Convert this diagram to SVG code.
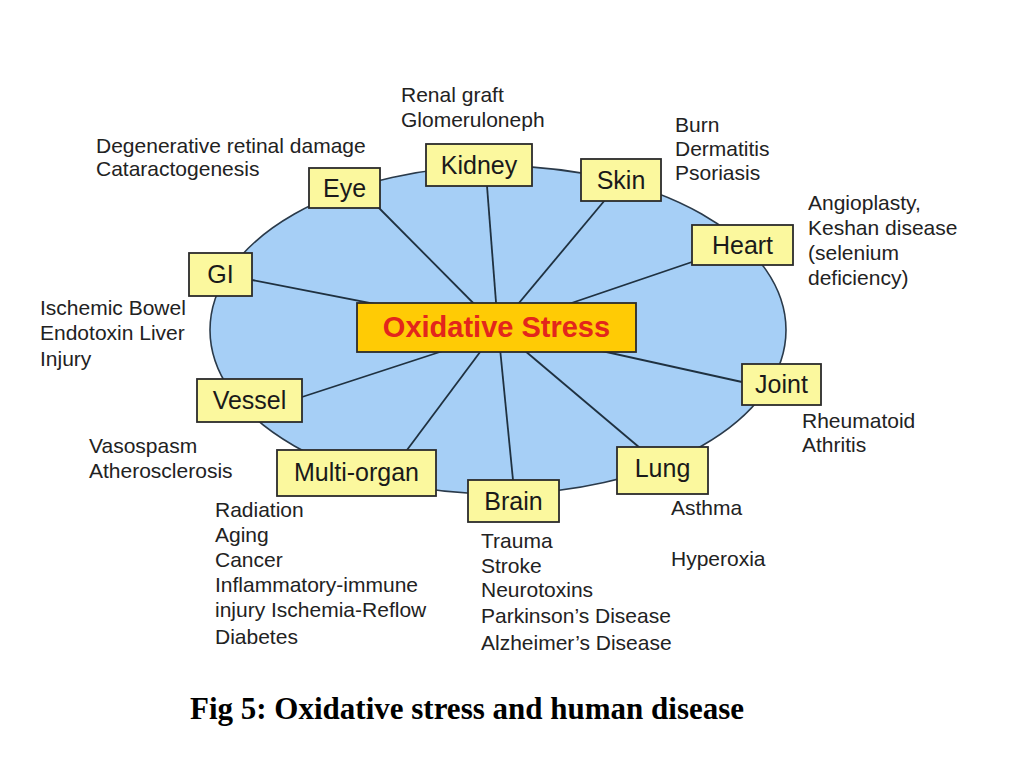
<svg xmlns="http://www.w3.org/2000/svg" width="1024" height="768" viewBox="0 0 1024 768">
<style>
.bg{fill:#ffffff}
.ell{fill:#a6cff6;stroke:#2a3a4a;stroke-width:1.6}
.ln{stroke:#1f3140;stroke-width:1.8;fill:none}
.box{fill:#fbf89e;stroke:#2b2b2b;stroke-width:1.8}
.lbl{font-family:"Liberation Sans",Arial,sans-serif;font-size:25px;fill:#1a1a1a;text-anchor:middle}
.txt{font-family:"Liberation Sans",Arial,sans-serif;font-size:21px;fill:#222222}
.core{fill:#ffcb05;stroke:#2b2b2b;stroke-width:1.8}
.coret{font-family:"Liberation Sans",Arial,sans-serif;font-size:29px;font-weight:bold;fill:#e3261c;text-anchor:middle}
.cap{font-family:"Liberation Serif","Times New Roman",serif;font-size:31px;font-weight:bold;fill:#000000}
</style>
<rect class="bg" x="0" y="0" width="1024" height="768"/>
<ellipse class="ell" cx="498" cy="330" rx="288" ry="164"/>
<g id="connectors">
<line class="ln" x1="378" y1="207" x2="498" y2="328"/>
<line class="ln" x1="487" y1="186" x2="498" y2="328"/>
<line class="ln" x1="605" y1="200" x2="498" y2="328"/>
<line class="ln" x1="692" y1="262" x2="498" y2="328"/>
<line class="ln" x1="252" y1="280" x2="498" y2="328"/>
<line class="ln" x1="742" y1="382" x2="498" y2="328"/>
<line class="ln" x1="302" y1="397" x2="498" y2="333"/>
<line class="ln" x1="407" y1="450" x2="498" y2="328"/>
<line class="ln" x1="513" y1="480" x2="498" y2="328"/>
<line class="ln" x1="640" y1="448" x2="498" y2="328"/>
</g>
<g id="center">
<rect class="core" x="357" y="303" width="279" height="49"/>
<text class="coret" x="496.5" y="337">Oxidative Stress</text>
</g>
<g id="eye">
<rect class="box" x="309" y="168" width="71" height="40"/>
<text class="lbl" x="344.5" y="197">Eye</text>
<text class="txt" x="96" y="153">Degenerative retinal damage</text>
<text class="txt" x="96" y="176">Cataractogenesis</text>
</g>
<g id="kidney">
<rect class="box" x="426" y="144" width="106" height="42"/>
<text class="lbl" x="479" y="174">Kidney</text>
<text class="txt" x="401" y="102">Renal graft</text>
<text class="txt" x="401" y="127">Glomeruloneph</text>
</g>
<g id="skin">
<rect class="box" x="581" y="159" width="80" height="42"/>
<text class="lbl" x="621" y="189">Skin</text>
<text class="txt" x="675" y="132">Burn</text>
<text class="txt" x="675" y="156">Dermatitis</text>
<text class="txt" x="675" y="180">Psoriasis</text>
</g>
<g id="heart">
<rect class="box" x="692" y="225" width="101" height="40"/>
<text class="lbl" x="742.5" y="254">Heart</text>
<text class="txt" x="808" y="210">Angioplasty,</text>
<text class="txt" x="808" y="235">Keshan disease</text>
<text class="txt" x="808" y="260">(selenium</text>
<text class="txt" x="808" y="285">deficiency)</text>
</g>
<g id="gi">
<rect class="box" x="189" y="253" width="63" height="43"/>
<text class="lbl" x="220.5" y="283">GI</text>
<text class="txt" x="40" y="315">Ischemic Bowel</text>
<text class="txt" x="40" y="340">Endotoxin Liver</text>
<text class="txt" x="40" y="366">Injury</text>
</g>
<g id="joint">
<rect class="box" x="742" y="364" width="79" height="41"/>
<text class="lbl" x="781.5" y="393">Joint</text>
<text class="txt" x="802" y="428">Rheumatoid</text>
<text class="txt" x="802" y="452">Athritis</text>
</g>
<g id="vessel">
<rect class="box" x="197" y="379" width="105" height="43"/>
<text class="lbl" x="249.5" y="409">Vessel</text>
<text class="txt" x="89" y="453">Vasospasm</text>
<text class="txt" x="89" y="478">Atherosclerosis</text>
</g>
<g id="multi-organ">
<rect class="box" x="277" y="450" width="159" height="46"/>
<text class="lbl" x="356.5" y="481">Multi-organ</text>
<text class="txt" x="215" y="517">Radiation</text>
<text class="txt" x="215" y="542">Aging</text>
<text class="txt" x="215" y="567">Cancer</text>
<text class="txt" x="215" y="592">Inflammatory-immune</text>
<text class="txt" x="215" y="617">injury Ischemia-Reflow</text>
<text class="txt" x="215" y="644">Diabetes</text>
</g>
<g id="brain">
<rect class="box" x="468" y="480" width="91" height="42"/>
<text class="lbl" x="513.5" y="510">Brain</text>
<text class="txt" x="481" y="548">Trauma</text>
<text class="txt" x="481" y="573">Stroke</text>
<text class="txt" x="481" y="597">Neurotoxins</text>
<text class="txt" x="481" y="623">Parkinson’s Disease</text>
<text class="txt" x="481" y="650">Alzheimer’s Disease</text>
</g>
<g id="lung">
<rect class="box" x="617" y="447" width="91" height="47"/>
<text class="lbl" x="662.5" y="477">Lung</text>
<text class="txt" x="671" y="515">Asthma</text>
<text class="txt" x="671" y="566">Hyperoxia</text>
</g>
<text class="cap" x="190" y="719">Fig 5: Oxidative stress and human disease</text>
</svg>
